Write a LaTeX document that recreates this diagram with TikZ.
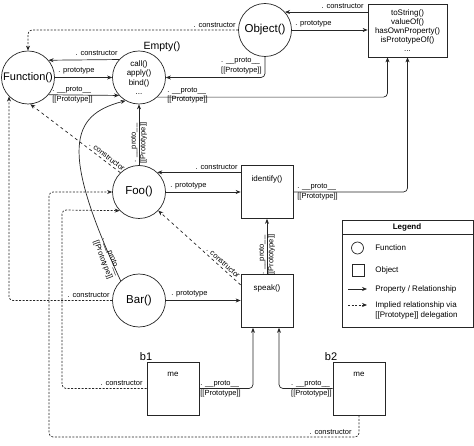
\documentclass[tikz,border=0pt]{standalone}
\usepackage{fontspec}
\setmainfont{Liberation Sans}
\usetikzlibrary{arrows.meta,calc}
\begin{document}
\begin{tikzpicture}[x=1pt,y=-1pt,line width=0.7pt,
  draw=black!85,
  fn/.style={circle,draw,minimum size=53pt,inner sep=0pt,font=\fontsize{11.5}{13}\selectfont},
  obj/.style={rectangle,draw,minimum width=52pt,minimum height=53pt,inner sep=0pt},
  lbl/.style={font=\fontsize{7.5}{9.5}\selectfont,inner sep=0pt},
  lbl2/.style={lbl,align=left},
  boxtxt/.style={font=\fontsize{8}{9}\selectfont,inner sep=0pt,anchor=base},
  arr/.style={-{Stealth[length=5pt,width=4pt]}},
  dotarr/.style={arr,dash pattern=on 2pt off 1.5pt},
  dsharr/.style={arr,dash pattern=on 3pt off 3pt},
  rc/.style={rounded corners=4pt},
]
\useasboundingbox (0,0) rectangle (474,446);

% nodes
\node[fn,font=\fontsize{11}{13}\selectfont] (func) at (28,77.5) {Function()};
\node[fn,font=\fontsize{8}{9.3}\selectfont,align=center] (empty) at (139,77.5) {call()\\apply()\\bind()\\...};
\node[inner sep=0pt,font=\fontsize{10.5}{12}\selectfont] (emptyname) at (162,47) {Empty()};
\node[fn] (object) at (265,30) {Object()};
\node[obj,minimum width=79pt,align=center,font=\fontsize{8}{9}\selectfont] (objproto) at (407.5,30.5) {toString()\\valueOf()\\hasOwnProperty()\\isPrototypeOf()\\...};
\node[fn] (foo) at (139,192) {Foo()};
\node[obj] (identify) at (267,192) {};
\node[boxtxt] (identifytxt) at (267,181.5) {identify()};
\node[fn] (bar) at (139,300.5) {Bar()};
\node[obj] (speak) at (267,301) {};
\node[boxtxt] (speaktxt) at (267,290.5) {speak()};
\node[obj] (b1) at (173,388.5) {};
\node[boxtxt] (b1txt) at (173,376) {me};
\node[inner sep=0pt,font=\fontsize{11}{13}\selectfont] (b1name) at (146,357) {b1};
\node[obj] (b2) at (359,388.5) {};
\node[boxtxt] (b2txt) at (359,376) {me};
\node[inner sep=0pt,font=\fontsize{11}{13}\selectfont] (b2name) at (331,357) {b2};

% Object relations
\draw[dotarr,rc] (object.west) -| (func.north);
\node[lbl,anchor=south east] (l1) at (236,28) {. constructor};
\draw[arr] (objproto.west |- object.42) -- (object.42);
\node[lbl,anchor=south east] (l2) at (364,9) {. constructor};
\draw[arr] (object.east) -- (objproto.west |- object.east);
\node[lbl,anchor=south west] (l3) at (295,27) {. prototype};
\draw[arr,rc] (object.south) |- (empty.east);
\node[lbl2,anchor=south east] (l4) at (262,74) {. \_\_proto\_\_\\{[[Prototype]]}};

% Empty / Function
\draw[arr,rc] (empty.-47) -| ($(objproto.south)+(-20,0)$);
\node[lbl2,anchor=west] (l5) at (167,95.5) {. \_\_proto\_\_\\{[[Prototype]]}};
\draw[arr] (func.east) -- (empty.west);
\node[lbl,anchor=south west] (l6) at (58,74) {. prototype};
\draw[arr] (empty.138) -- (func.40.4);
\node[lbl,anchor=south east] (l7) at (118,56) {. constructor};
\draw[arr] (func.-40.4) -- (empty.-138);
\node[lbl2,anchor=west] (l8) at (52,95) {. \_\_proto\_\_\\{[[Prototype]]}};

% Foo
\draw[arr] (foo.north) -- (empty.south);
\node[lbl,align=center,rotate=90] (l9) at (139,143) {. \_\_proto\_\_\\{[[Prototype]]}};
\draw[dsharr] (foo.134) -- (func.-85.8) node[lbl,pos=0.18,sloped,above=2pt] (l10) {. constructor};
\draw[arr] (foo.east) -- (identify.west);
\node[lbl,anchor=south west] (l11) at (170,189) {. prototype};
\draw[arr] (identify.west |- foo.47) -- (foo.47);
\node[lbl,anchor=south east] (l12) at (238,170) {. constructor};
\draw[arr,rc] (identify.east) -| (objproto.south);
\node[lbl2,anchor=west] (l13) at (297,192) {. \_\_proto\_\_\\{[[Prototype]]}};

% Bar
\draw[dotarr,rc] (bar.west) -| (func.-135);
\node[lbl,anchor=south east] (l14) at (110,297.5) {. constructor};
\draw[arr] (bar.133) .. controls (60,150) and (70,115) .. (empty.-120);
\node[lbl,align=center,rotate=-69] (l15) at (107,258) {. \_\_proto\_\_\\{[[Prototype]]}};
\draw[arr] (bar.east) -- (speak.west |- bar.east);
\node[lbl,anchor=south west] (l16) at (171,297.5) {. prototype};

% speak
\draw[arr] (speak.north) -- (identify.south);
\node[lbl,align=center,rotate=90] (l17) at (267,255) {. \_\_proto\_\_\\{[[Prototype]]}};
\draw[dsharr] ($(speak.north west)!0.2!(speak.south west)$) -- (foo.-44) node[lbl,pos=0.25,sloped,above=2pt] (l18) {. constructor};

% b1, b2
\coordinate (b1c) at (62,210);
\draw[dotarr,rc] (b1.west) -| (b1c) -- (foo.-136);
\node[lbl,anchor=south east] (l19) at (143,386) {. constructor};
\draw[arr,rc] (b1.east) -| ($(speak.south)+(-14,0)$);
\node[lbl2,anchor=west] (l20) at (200,389) {. \_\_proto\_\_\\{[[Prototype]]}};
\draw[arr,rc] (b2.west) -| ($(speak.south)+(12,0)$);
\node[lbl2,anchor=east] (l21) at (332,389) {. \_\_proto\_\_\\{[[Prototype]]}};
\coordinate (b2c1) at (359,437);
\coordinate (b2c2) at (49,192);
\draw[dotarr,rc] (b2.south) -- (b2c1) -| (b2c2) -- (foo.west);
\node[lbl,anchor=south east] (l22) at (352,435) {. constructor};

% legend
\node[draw,minimum width=130.5pt,minimum height=107pt,anchor=north west,inner sep=0pt] (legend) at (342,220) {};
\node[inner sep=0pt,font=\bfseries\fontsize{8}{9}\selectfont] (legendtitle) at (407,227.5) {Legend};
\coordinate (lgsep) at (0,234.5);
\draw (legend.west |- lgsep) -- (legend.east |- lgsep);
\node[circle,draw,minimum size=12pt,inner sep=0pt] (lgcircle) at (357.5,248) {};
\node[anchor=west,inner sep=0pt,font=\fontsize{8}{9}\selectfont] (lgfn) at (375,248) {Function};
\node[draw,minimum size=12pt,inner sep=0pt] (lgbox) at (358.5,270) {};
\node[anchor=west,inner sep=0pt,font=\fontsize{8}{9}\selectfont] (lgobj) at (375,270) {Object};
\coordinate (lga1) at (348,289);
\coordinate (lga2) at (367,289);
\draw[arr] (lga1) -- (lga2);
\node[anchor=west,inner sep=0pt,font=\fontsize{8}{9}\selectfont] (lgprop) at (375,289) {Property / Relationship};
\coordinate (lgd1) at (348,305);
\coordinate (lgd2) at (367,305);
\draw[dotarr] (lgd1) -- (lgd2);
\node[anchor=west,inner sep=0pt,align=left,font=\fontsize{8}{10.5}\selectfont] (lgimpl) at (375,310.5) {Implied relationship via\\{[[Prototype]] delegation}};
\end{tikzpicture}
\end{document}
